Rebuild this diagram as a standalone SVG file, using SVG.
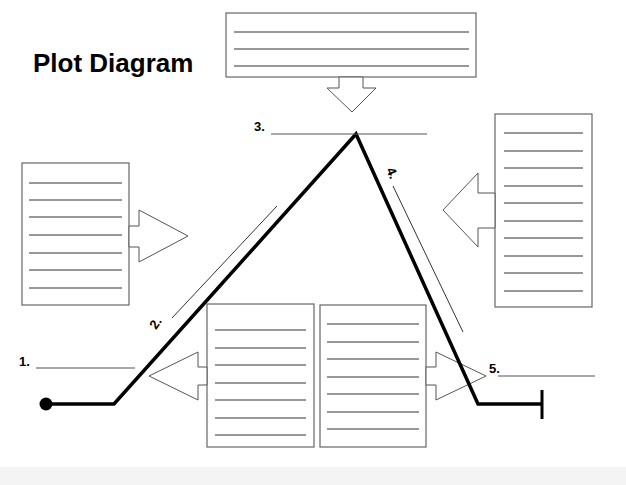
<svg xmlns="http://www.w3.org/2000/svg" width="626" height="485" viewBox="0 0 626 485">
<style>
.box{fill:#fff;stroke:#666;stroke-width:1.2}
.ln{stroke:#333;stroke-width:1}
.arr{fill:#fff;stroke:#555;stroke-width:1}
.plot{fill:none;stroke:#000;stroke-width:3.5}
.t{font-family:"Liberation Sans",Arial,sans-serif;font-weight:bold;fill:#000}
</style>
<rect width="626" height="485" fill="#fff"/>
<rect x="0" y="467" width="626" height="18" fill="#f4f4f4"/>
<text class="t" x="33" y="72" font-size="26">Plot Diagram</text>
<g id="top-box">
<rect class="box" x="226" y="13" width="250" height="64"/>
<path class="ln" d="M234 32H469M234 49H469M234 66H469"/>
<polygon class="arr" points="339,77 363,77 363,88 376,88 352,112 327,88 339,88"/>
</g>
<g id="left-box">
<rect class="box" x="22" y="163" width="107" height="142"/>
<path class="ln" d="M29 183H122M29 200H122M29 217H122M29 235H122M29 253H122M29 270H122M29 288H122"/>
<polygon class="arr" points="129,226 139,226 139,210 188,236 139,262 139,247 129,247"/>
</g>
<g id="right-box">
<rect class="box" x="495" y="114" width="97" height="193"/>
<path class="ln" d="M504 133H583M504 151H583M504 168H583M504 186H583M504 203H583M504 221H583M504 238H583M504 256H583M504 273H583M504 291H583"/>
<polygon class="arr" points="495,193 478,193 478,173 443,210 478,247 478,228 495,228"/>
</g>
<g id="bottom-left-box">
<rect class="box" x="207" y="304" width="107" height="143"/>
<path class="ln" d="M215 330H306M215 348H306M215 365H306M215 383H306M215 400H306M215 418H306M215 435H306"/>
<polygon class="arr" points="207,367 198,367 198,352 149,376 198,400 198,385 207,385"/>
</g>
<g id="bottom-right-box">
<rect class="box" x="320" y="305" width="106" height="142"/>
<path class="ln" d="M327 324H419M327 342H419M327 359H419M327 377H419M327 394H419M327 412H419M327 429H419"/>
<polygon class="arr" points="426,367 436,367 436,352 486,376 436,400 436,385 426,385"/>
</g>
<g id="connectors">
<path class="plot" d="M46 404H114L356 134L478 404H542"/>
<path d="M542 390V419" stroke="#000" stroke-width="3"/>
<circle cx="46" cy="404" r="6.5" fill="#000"/>
<path class="ln" d="M277 206L172 318M393 186L463 332"/>
<path stroke="#555" stroke-width="1.2" d="M271 134H427M36 368H135M498 376H595"/>
</g>
<g id="labels">
<text class="t" x="254" y="131" font-size="13">3.</text>
<text class="t" x="19" y="366" font-size="13">1.</text>
<text class="t" x="489" y="373" font-size="13">5.</text>
<text class="t" x="0" y="0" font-size="13" transform="translate(156,330) rotate(-55)">2.</text>
<text class="t" x="0" y="0" font-size="13" transform="translate(386,170) rotate(65)">4.</text>
</g>
</svg>
